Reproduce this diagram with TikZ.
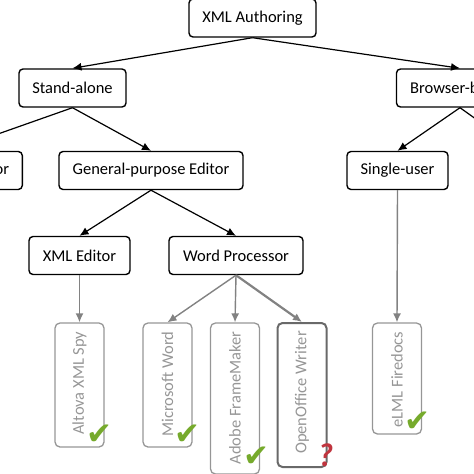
\documentclass[tikz,border=0pt]{standalone}
\usepackage{fontspec}
\setmainfont{Carlito}
\newfontfamily\symfont{DejaVu Sans}
\usetikzlibrary{arrows.meta}
\definecolor{toolgray}{RGB}{150,150,150}
\definecolor{linkgray}{RGB}{130,130,130}
\definecolor{darkgray}{RGB}{105,105,105}
\definecolor{okgreen}{RGB}{118,170,44}
\definecolor{askred}{RGB}{192,52,62}
\newcommand{\okmark}{{\symfont\fontsize{31}{31}\selectfont ✔}}
\tikzset{
  cat/.style={draw=black,line width=1.4pt,rounded corners=4pt,minimum height=38pt,
              inner sep=0pt,font=\fontsize{16.5}{19}\selectfont},
  tool/.style={draw=toolgray,line width=1.3pt,rounded corners=5pt,minimum width=49pt,inner sep=0pt},
  toolname/.style={rotate=90,anchor=east,inner sep=0pt,text=toolgray,font=\fontsize{16.5}{19}\selectfont},
  catlink/.style={draw=black,line width=1.2pt,-{Latex[length=9pt,width=8pt]}},
  toollink/.style={draw=linkgray,line width=1.4pt,-{Latex[length=9pt,width=8pt]}}
}
\begin{document}
\begin{tikzpicture}[x=1pt,y=-1pt]
 \useasboundingbox (0,0) rectangle (474,474);

 % categories
 \draw (252.5,18)  node[cat,minimum width=127pt] (auth)  {XML Authoring};
 \draw (72.5,88)   node[cat,minimum width=107pt] (stand) {Stand-alone};
 \draw (460,88)    node[cat,minimum width=127pt] (brow)  {Browser-based};
 \draw (23,170.5)  node[cat,minimum width=144pt,anchor=east] (spec) {Specialized Editor};
 \draw (151,170.5) node[cat,minimum width=184pt] (gen)   {General-purpose Editor};
 \draw (397.5,170.5) node[cat,minimum width=101pt] (single) {Single-user};
 \coordinate (multi) at (522,152);
 \draw (79.5,255.5) node[cat,minimum width=101pt] (xmled) {XML Editor};
 \draw (236,255.5)  node[cat,minimum width=134pt] (wproc) {Word Processor};

 % tools
 \draw (79.5,385)  node[tool,minimum height=124pt] (altova) {};
 \draw (167.5,385) node[tool,minimum height=124pt] (msword) {};
 \draw (235,398.5) node[tool,minimum height=151pt] (frame)  {};
 \draw (302,395)   node[tool,minimum height=144pt,draw=darkgray,line width=2pt] (oow) {};
 \draw (397,378.5) node[tool,minimum height=111pt] (elml)   {};

 \node[toolname] (altovaT) at ([yshift=-9pt]altova.north) {Altova XML Spy};
 \node[toolname] (mswordT) at ([yshift=-9pt]msword.north) {Microsoft Word};
 \node[toolname] (frameT)  at ([yshift=-9pt]frame.north)  {Adobe FrameMaker};
 \node[toolname] (oowT)    at ([yshift=-9pt]oow.north)    {OpenOffice Writer};
 \node[toolname] (elmlT)   at ([yshift=-9pt]elml.north)   {eLML Firedocs};

 % verdicts
 \node[text=okgreen,inner sep=0pt] (altovaOK) at ([shift={(-5pt,13pt)}]altova.south east) {\okmark};
 \node[text=okgreen,inner sep=0pt] (mswordOK) at ([shift={(-5pt,13pt)}]msword.south east) {\okmark};
 \node[text=okgreen,inner sep=0pt] (frameOK)  at ([shift={(-4pt,18pt)}]frame.south east)  {\okmark};
 \node[text=okgreen,inner sep=0pt] (elmlOK)   at ([shift={(-5pt,13pt)}]elml.south east)   {\okmark};
 \node[text=askred,inner sep=0pt,font=\fontsize{33}{33}\selectfont\bfseries\itshape] (oowAsk)
      at ([shift={(-2pt,13pt)}]oow.south east) {?};

 % links
 \draw[catlink] (auth.south)  -- (stand.north);
 \draw[catlink] (auth.south)  -- (brow.north);
 \draw[catlink] (stand.south) -- (spec.north);
 \draw[catlink] (stand.south) -- (gen.north);
 \draw[catlink] (brow.south)  -- (single.north);
 \draw[catlink] (brow.south)  -- (multi);
 \draw[catlink] (gen.south)   -- (xmled.north);
 \draw[catlink] (gen.south)   -- (wproc.north);

 \draw[toollink] (xmled.south)  -- (altova.north);
 \draw[toollink] (wproc.south)  -- (msword.north);
 \draw[toollink] (wproc.south)  -- (frame.north);
 \draw[toollink,line width=2.2pt] (wproc.south) -- (oow.north);
 \draw[toollink] (single.south) -- (elml.north);

\end{tikzpicture}
\end{document}
